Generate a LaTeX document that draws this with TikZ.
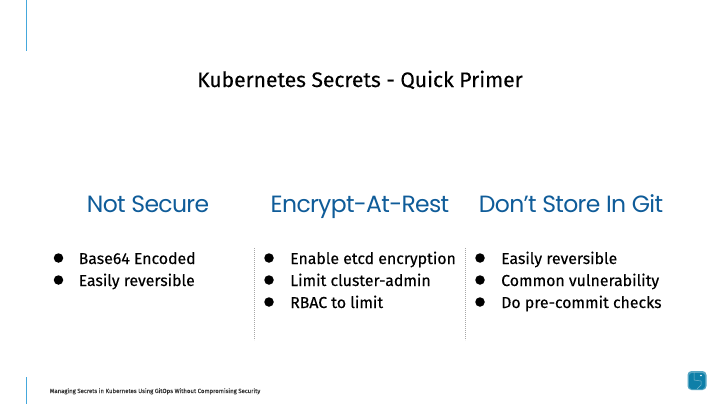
\documentclass[tikz,border=0pt]{standalone}
\usepackage{fontspec}
\setmainfont[FakeBold=0.25]{Fira Sans}
\newfontfamily\headfont[LetterSpace=-2.8]{Poppins}
\newfontfamily\footfont[FakeBold=0.1]{Fira Sans}
\definecolor{headblue}{HTML}{0F5C99}
\definecolor{barblue}{HTML}{45A8DC}
\definecolor{logoblue}{HTML}{0E7FA8}
\tikzset{
  x=1pt,y=-1pt,
  titletext/.style={anchor=base,inner sep=0pt,font=\fontsize{21}{24}\selectfont,text=black},
  headtext/.style={anchor=base,inner sep=0pt,font=\headfont\fontsize{23.5}{26}\selectfont,text=headblue},
  itemtext/.style={anchor=base west,inner sep=0pt,font=\fontsize{15.85}{18}\selectfont,text=black},
  bulletdot/.style={circle,fill=black,inner sep=0pt,minimum size=9.5pt},
  footertext/.style={anchor=base west,inner sep=0pt,font=\footfont\fontsize{6}{8}\selectfont,text=black!80},
  edgebar/.style={draw=barblue,line width=1.1pt},
  divider/.style={draw=black!35,line width=0.8pt,dash pattern=on 0.9pt off 1.1pt},
}
\begin{document}
\begin{tikzpicture}
\useasboundingbox[fill=white] (0,0) rectangle (720,404);
\draw[edgebar] (26.5,0) -- (26.5,51);
\draw[edgebar] (26.5,377) -- (26.5,404);
\node[titletext] (title) at (360,87) {Kubernetes Secrets - Quick Primer};
\node[headtext] (h1) at (148,212) {Not Secure};
\node[headtext] (h2) at (360,212) {Encrypt-At-Rest};
\node[headtext] (h3) at (571,212) {Don’t Store In Git};
\draw[divider] (254.5,248) -- (254.5,340);
\draw[divider] (465.5,248) -- (465.5,340);
\node[bulletdot] (b11) at (58.5,258) {};
\node[bulletdot] (b12) at (58.5,280) {};
\node[itemtext] (t11) at (78.5,264) {Base64 Encoded};
\node[itemtext] (t12) at (78.5,286) {Easily reversible};
\node[bulletdot] (b21) at (269,258) {};
\node[bulletdot] (b22) at (269,280) {};
\node[bulletdot] (b23) at (269,302) {};
\node[itemtext] (t21) at (290,264) {Enable etcd encryption};
\node[itemtext] (t22) at (290,286) {Limit cluster-admin};
\node[itemtext] (t23) at (290,308) {RBAC to limit};
\node[bulletdot] (b31) at (480,258) {};
\node[bulletdot] (b32) at (480,280) {};
\node[bulletdot] (b33) at (480,302) {};
\node[itemtext] (t31) at (501,264) {Easily reversible};
\node[itemtext] (t32) at (501,286) {Common vulnerability};
\node[itemtext] (t33) at (501,308) {Do pre-commit checks};
\node[footertext] (foot) at (49.5,393) {Managing Secrets in Kubernetes Using GitOps Without Compromising Security};
\fill[logoblue!70!white,rounded corners=4pt] (687.5,371) rectangle (706.5,390);
\fill[logoblue,rounded corners=3pt] (689,373) rectangle (705,389);
\draw[logoblue!55!white,line width=0.5pt] (694,372) -- (694,380) -- (701,381) -- (701,385) -- (697,389);
\fill[white] (701,375.5) circle (0.9);
\end{tikzpicture}
\end{document}
